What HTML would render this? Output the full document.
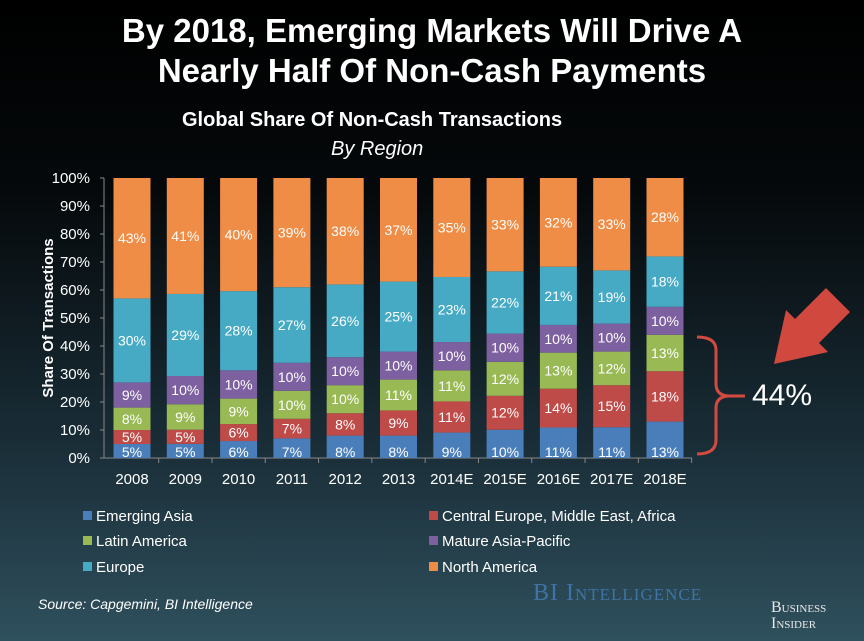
<!DOCTYPE html>
<html><head><meta charset="utf-8"><style>
html,body{margin:0;padding:0}
body{width:864px;height:641px;overflow:hidden;background:linear-gradient(180deg,#000 0%,#05090b 30%,#1a2e38 70%,#2f505d 100%);font-family:"Liberation Sans",sans-serif;color:#fff;position:relative}
.t{position:absolute;white-space:nowrap}
</style></head><body>
<div class="t" style="left:0;width:864px;text-align:center;top:11px;font-size:33px;font-weight:bold;line-height:40px">By 2018, Emerging Markets Will Drive A<br>Nearly Half Of Non-Cash Payments</div>
<div class="t" style="left:182px;top:109px;font-size:20px;font-weight:bold">Global Share Of Non-Cash Transactions</div>
<div class="t" style="left:331px;top:138px;font-size:20px;font-style:italic">By Region</div>
<svg id="c" width="864" height="641" style="position:absolute;left:0;top:0"></svg>
<div class="t" style="left:38px;top:596px;font-size:14px;font-style:italic">Source: Capgemini, BI Intelligence</div>
<div class="t" style="left:533px;top:580px;font-family:'Liberation Serif',serif;font-size:24px;color:#3f73a6;font-variant:small-caps;letter-spacing:1px">BI Intelligence</div>
<div class="t" style="left:771px;top:600px;font-family:'Liberation Serif',serif;font-size:16px;font-variant:small-caps;line-height:16px;color:#e8e8e8">Business<br>Insider</div>
<script>
const categories=["2008","2009","2010","2011","2012","2013","2014E","2015E","2016E","2017E","2018E"];
const emergingAsia=[5,5,6,7,8,8,9,10,11,11,13];
const centralEurope=[5,5,6,7,8,9,11,12,14,15,18];
const latinAmerica=[8,9,9,10,10,11,11,12,13,12,13];
const matureAsia=[9,10,10,10,10,10,10,10,10,10,10];
const europe=[30,29,28,27,26,25,23,22,21,19,18];
const northAmerica=[43,41,40,39,38,37,35,33,32,33,28];
const yTicks=[0,10,20,30,40,50,60,70,80,90,100];
const seriesNames=["Emerging Asia","Central Europe, Middle East, Africa","Latin America","Mature Asia-Pacific","Europe","North America"];
const series=[emergingAsia,centralEurope,latinAmerica,matureAsia,europe,northAmerica];
const colors=["#4a7ebb","#be4b48","#98b954","#7d60a0","#46aac5","#ef8c45"];
const NS="http://www.w3.org/2000/svg";
const svg=document.getElementById('c');
const y0=458,y1=178,xs=132,xstep=53.3,bw=37;
const y=v=>y0-(v/100)*(y0-y1);
const x=i=>xs+i*xstep;
function mk(t,a,p){const e=document.createElementNS(NS,t);for(const k in a)e.setAttribute(k,a[k]);(p||svg).appendChild(e);return e;}
let ax=mk('line',{x1:104,x2:692,y1:y0,y2:y0,stroke:'#888','stroke-width':1});


let ay=mk('line',{x1:104,x2:104,y1:y1,y2:y0,stroke:'#888','stroke-width':1});


yTicks.forEach(t=>{
 mk('line',{x1:100,x2:104,y1:y(t),y2:y(t),stroke:'#888'});
 const tx=mk('text',{x:90,y:y(t)+5,'text-anchor':'end','font-size':15,fill:'#fff'});tx.textContent=t+'%';
 
 
});
const yt=mk('text',{transform:'translate(53,318) rotate(-90)','text-anchor':'middle','font-size':15,'font-weight':'bold',fill:'#fff'});
yt.textContent='Share Of Transactions';


categories.forEach((c,i)=>{
 const tot=series.reduce((s,a)=>s+a[i],0);
 let cum=0;
 mk('line',{x1:x(i)+xstep/2,x2:x(i)+xstep/2,y1:y0,y2:y0+5,stroke:'#888'});
 series.forEach((a,k)=>{
  const v=a[i]/tot*100;
  const r=mk('rect',{x:x(i)-bw/2,y:y(cum+v),width:bw,height:y(cum)-y(cum+v),fill:colors[k]});
  
  
  let ly=(y(cum)+y(cum+v))/2+5;
  if(k===5) ly=Math.min(ly,y(76)+5);
  if(k===0) ly=Math.max(ly,y0-1);
  const lt=mk('text',{x:x(i),y:ly,'text-anchor':'middle','font-size':14,fill:'#fff'});
  lt.textContent=a[i]+'%';
  
  
  cum+=v;
 });
 const xl=mk('text',{x:x(i),y:484,'text-anchor':'middle','font-size':15,fill:'#fff'});
 xl.textContent=c;
 
 
});
const lpos=[[83,516],[429,516],[83,541],[429,541],[83,567],[429,567]];
[0,1,2,3,4,5].forEach((k,j)=>{
 const g=mk('g',{});
 
 
 mk('rect',{x:lpos[j][0],y:lpos[j][1]-5,width:9,height:9,fill:colors[k]},g);
 const t=mk('text',{x:lpos[j][0]+13,y:lpos[j][1]+5,'font-size':15,fill:'#fff'},g);t.textContent=seriesNames[k];
});
const br=mk('path',{d:'M697,337 Q716,337 716,350 L716,384 Q716,396 730,396 Q716,396 716,408 L716,440 Q716,454 697,454',fill:'none',stroke:'#d24a40','stroke-width':3});


mk('line',{x1:728,x2:745,y1:396,y2:396,stroke:'#d24a40','stroke-width':3});
const pct=mk('text',{x:752,y:405,'font-size':30,fill:'#fff'});pct.textContent='44%';


const ar=mk('polygon',{points:'840,302 826,288 795,319 786,310 774,364 828,352 819,343 850,312',fill:'#d0483e'});


</script>
</body></html>
